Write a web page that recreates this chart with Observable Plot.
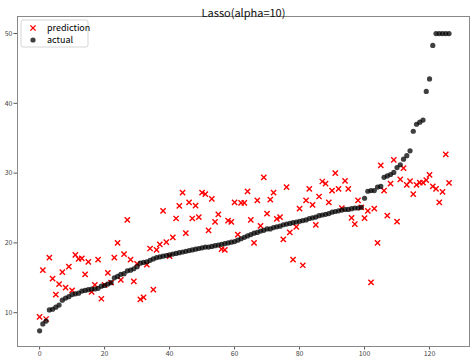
<!DOCTYPE html>
<html><head><meta charset="utf-8">
<script src="https://cdn.jsdelivr.net/npm/d3@7"></script>
<script src="https://cdn.jsdelivr.net/npm/@observablehq/plot@0.6"></script>
<style>body{margin:0;background:#fff} svg{display:block}</style>
</head><body><div id="chart"></div>
<script>
const title = "Lasso(alpha=10)";
const seriesNames = ["prediction", "actual"];
const xTicks = [0, 20, 40, 60, 80, 100, 120];
const yTicks = [10, 20, 30, 40, 50];
const actual = [
  7.4, 8.4, 8.8, 10.4, 10.5, 10.8, 11.1, 11.8, 12.1, 12.3,
  12.6, 12.7, 12.8, 13.1, 13.2, 13.3, 13.4, 13.4, 13.5, 13.8,
  13.9, 14.1, 14.3, 15.0, 15.2, 15.5, 15.6, 16.0, 16.1, 16.3,
  16.6, 17.1, 17.2, 17.3, 17.5, 17.7, 17.9, 18.0, 18.1, 18.2,
  18.3, 18.4, 18.5, 18.6, 18.7, 18.8, 18.9, 19.0, 19.1, 19.2,
  19.3, 19.4, 19.4, 19.5, 19.6, 19.7, 19.8, 19.9, 20.0, 20.1,
  20.2, 20.4, 20.6, 20.8, 21.0, 21.2, 21.4, 21.5, 21.7, 21.8,
  22.0, 22.0, 22.2, 22.3, 22.4, 22.6, 22.7, 22.8, 22.9, 23.0,
  23.1, 23.2, 23.3, 23.5, 23.6, 23.7, 23.9, 24.0, 24.1, 24.2,
  24.4, 24.5, 24.6, 24.7, 24.8, 24.8, 24.9, 25.0, 25.0, 25.1,
  26.4, 27.4, 27.5, 27.5, 28.0, 28.1, 29.4, 29.6, 29.8, 30.1,
  30.8, 31.2, 32.0, 32.5, 33.2, 36.0, 37.0, 37.3, 37.6, 41.7,
  43.5, 48.3, 50.0, 50.0, 50.0, 50.0, 50.0
];
const prediction = [
  9.4, 16.1, 9.1, 17.9, 14.9, 12.6, 14.1, 15.8, 13.6, 16.6,
  13.2, 18.3, 17.7, 17.8, 15.5, 17.3, 13.0, 14.0, 17.6, 12.0,
  14.0, 15.7, 14.3, 17.9, 20.0, 14.7, 18.4, 23.3, 17.6, 14.5,
  17.0, 11.9, 12.2, 16.9, 19.2, 13.3, 19.0, 19.8, 24.6, 20.1,
  18.1, 20.8, 23.5, 25.3, 27.2, 21.4, 25.8, 23.5, 25.35, 23.7,
  27.2, 27.0, 21.8, 26.3, 23.0, 24.1, 19.1, 19.0, 23.2, 23.0,
  25.8, 21.2, 25.75, 25.75, 27.4, 23.3, 20.0, 26.1, 22.45, 29.4,
  24.2, 26.2, 27.2, 23.45, 23.7, 20.5, 28.0, 21.5, 17.6, 22.3,
  24.9, 16.8, 26.1, 27.75, 25.45, 22.6, 26.65, 28.8, 28.5, 25.8,
  27.5, 30.0, 27.75, 25.0, 28.9, 27.75, 23.6, 22.7, 26.1, 25.1,
  23.55, 24.6, 14.35, 24.9, 20.0, 31.1, 27.5, 23.9, 28.5, 31.9,
  23.05, 29.1, 30.7, 28.3, 28.85, 27.0, 28.3, 28.65, 28.65, 29.0,
  29.75, 28.1, 27.75, 25.8, 27.3, 32.7, 28.6
];

const rows = actual.map((a, i) => ({i, actual: a, prediction: prediction[i]}));
const font = "'Noto Sans CJK KR', 'Noto Sans', sans-serif";

const plot = Plot.plot({
  width: 474, height: 362,
  marginLeft: 17, marginRight: 5, marginTop: 16, marginBottom: 16,
  style: {fontFamily: font, background: "#fff", color: "#444", overflow: "visible"},
  x: {domain: [-6.8, 132.3], label: null},
  y: {domain: [5.16, 52.44], label: null},
  marks: [
    Plot.axisX({ticks: xTicks, tickSize: 3.5, tickPadding: 1.5, fontSize: 7, stroke: "#555", fill: "#444", label: null}),
    Plot.axisY({ticks: yTicks, tickSize: 3.5, tickPadding: 1.5, fontSize: 7, stroke: "#555", fill: "#444", label: null}),
    Plot.dot(rows, {x: "i", y: "prediction", symbol: "times", r: 2.5, stroke: "#f00", strokeWidth: 1.4}),
    Plot.dot(rows, {x: "i", y: "actual", r: 2.6, fill: "#000", fillOpacity: 0.75, stroke: "none"}),
    Plot.frame({stroke: "#888", strokeWidth: 1}),
    Plot.text([title], {frameAnchor: "top", dy: -7, text: d => d, fontSize: 11, fontWeight: "normal", fill: "#111"})
  ]
});
document.getElementById("chart").appendChild(plot);

// legend
const svg = d3.select(plot);
const lg = svg.append("g").attr("font-family", font).attr("font-size", 9).attr("text-anchor", "start");
lg.append("rect").attr("x", 21).attr("y", 20).attr("width", 67).attr("height", 27)
  .attr("rx", 2).attr("fill", "#fff").attr("fill-opacity", 0.8).attr("stroke", "#d5d5d5");
const sym = d3.symbol(d3.symbolTimes, Math.PI * 2.5 * 2.5);
lg.append("path").attr("d", sym()).attr("transform", "translate(33,28)")
  .attr("stroke", "#f00").attr("stroke-width", 1.4).attr("fill", "none");
lg.append("circle").attr("cx", 33).attr("cy", 40).attr("r", 2.6).attr("fill", "#000").attr("fill-opacity", 0.75);
lg.selectAll("text.l").data(seriesNames).join("text").attr("class", "l")
  .attr("x", 47).attr("y", (d, k) => 28 + 12 * k).attr("dy", "0.35em")
  .attr("text-anchor", "start").attr("fill", "#000").text(d => d);
</script></body></html>
